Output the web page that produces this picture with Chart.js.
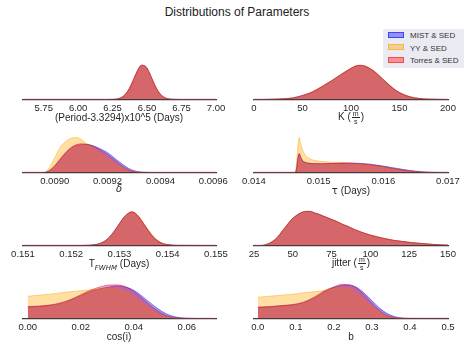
<!DOCTYPE html>
<html>
<head>
<meta charset="utf-8">
<script src="https://cdn.jsdelivr.net/npm/chart.js@4/dist/chart.umd.min.js"></script>
<style>
  html, body { margin:0; padding:0; background:#fff; }
  body { width:474px; height:355px; position:relative; overflow:hidden; font-family:'Liberation Sans', Arial, sans-serif; color:#262626; }
  canvas { position:absolute; }
  #title { position:absolute; left:0; width:474px; top:5px; text-align:center; font-size:12px; line-height:14px; color:#222; }
  .xl { position:absolute; width:220px; text-align:center; font-size:10px; line-height:12px; white-space:nowrap; }
  .frac { display:inline-block; vertical-align:middle; font-size:7px; line-height:7px; text-align:center; margin:0 1px; }
  .frac span { display:block; }
  .frac .num { border-bottom:0.8px solid #262626; padding:0 1px; }
  .math { font-family:'DejaVu Sans', sans-serif; font-style:italic; }
  #legend { position:absolute; left:383px; top:29px; width:81px; height:39px; background:#eaeaf2; border-radius:2px; font-size:8px; font-weight:normal; color:#333; }
  #legend .it { position:absolute; left:5px; height:10px; line-height:10px; white-space:nowrap; }
  #legend .sw { display:inline-block; width:16px; height:6px; vertical-align:middle; margin-right:6px; box-sizing:border-box; border:1px solid; position:relative; top:-1px; }
</style>
</head>
<body>
<div id="title">Distributions of Parameters</div>

<canvas id="c1" width="237" height="60" style="left:0px;top:60px"></canvas>
<canvas id="c2" width="237" height="60" style="left:237px;top:60px"></canvas>
<canvas id="c3" width="237" height="60" style="left:0px;top:133px"></canvas>
<canvas id="c4" width="237" height="60" style="left:237px;top:133px"></canvas>
<canvas id="c5" width="237" height="60" style="left:0px;top:206px"></canvas>
<canvas id="c6" width="237" height="60" style="left:237px;top:206px"></canvas>
<canvas id="c7" width="237" height="60" style="left:0px;top:279px"></canvas>
<canvas id="c8" width="237" height="60" style="left:237px;top:279px"></canvas>

<div class="xl" style="left:9px;top:112px">(Period-3.3294)x10^5 (Days)</div>
<div class="xl" style="left:241px;top:110px">K (<span class="frac"><span class="num">m</span><span>s</span></span>)</div>
<div class="xl" style="left:9px;top:183px"><span class="math">δ</span></div>
<div class="xl" style="left:241px;top:185px"><span style="font-family:'DejaVu Sans',sans-serif">τ</span> (Days)</div>
<div class="xl" style="left:9px;top:258px">T<sub class="math" style="font-size:7px">FWHM</sub> (Days)</div>
<div class="xl" style="left:241px;top:256px">jitter (<span class="frac"><span class="num">m</span><span>s</span></span>)</div>
<div class="xl" style="left:9px;top:331px">cos(i)</div>
<div class="xl" style="left:241px;top:331px">b</div>

<div id="legend">
  <div class="it" style="top:2px"><span class="sw" style="background:rgba(0,0,255,0.38);border-color:rgba(0,0,255,0.55)"></span>MIST &amp; SED</div>
  <div class="it" style="top:14.5px"><span class="sw" style="background:rgba(255,165,0,0.4);border-color:rgba(255,165,0,0.55)"></span>YY &amp; SED</div>
  <div class="it" style="top:27px"><span class="sw" style="background:rgba(255,0,0,0.38);border-color:rgba(255,0,0,0.5)"></span>Torres &amp; SED</div>
</div>

<script>
// ---------------- DATA (heights are relative bin counts) ----------------
const seriesNames = ['MIST & SED', 'YY & SED', 'Torres & SED'];

// Panel 1: (Period-3.3294)x10^5 (Days)
const periodX      = [5.60, 6.10, 6.20, 6.25, 6.28, 6.31, 6.34, 6.37, 6.40, 6.43, 6.46, 6.49, 6.52, 6.55, 6.58, 6.61, 6.64, 6.67, 6.70, 6.75, 7.00];
const periodMist   = [0, 0, 0, 1, 4, 16, 46, 106, 195, 289, 347, 335, 261, 163, 83, 34, 11, 3, 1, 0, 0];
const periodYY     = [0, 0, 0, 1, 5, 18, 48, 109, 198, 291, 344, 333, 259, 165, 85, 35, 12, 3, 1, 0, 0];
const periodTorres = [0, 0, 0, 1, 5, 17, 47, 107, 196, 290, 346, 334, 260, 164, 84, 34, 11, 3, 1, 0, 0];
const periodTicks  = [5.75, 6.00, 6.25, 6.50, 6.75, 7.00];
const periodLabels = ['5.75', '6.00', '6.25', '6.50', '6.75', '7.00'];

// Panel 2: K (m/s)
const kX      = [0, 10, 20, 30, 40, 50, 60, 70, 80, 90, 100, 105, 110, 115, 120, 125, 130, 135, 140, 145, 150, 160, 170, 180, 190, 200];
const kMist   = [0, 0, 2, 6, 15, 39, 74, 129, 189, 254, 314, 339, 346, 336, 311, 276, 231, 186, 141, 101, 69, 29, 10, 3, 1, 0];
const kYY     = [0, 0, 2, 6, 16, 41, 76, 131, 191, 256, 316, 341, 347, 338, 314, 280, 236, 190, 145, 104, 71, 30, 11, 3, 1, 0];
const kTorres = [0, 0, 2, 6, 15, 40, 75, 130, 190, 255, 315, 340, 345, 335, 310, 275, 230, 185, 140, 100, 68, 28, 10, 3, 1, 0];
const kTicks  = [0, 50, 100, 150, 200];
const kLabels = ['0', '50', '100', '150', '200'];

// Panel 3: delta
const deltaX      = [0.00888, 0.00896, 0.00898, 0.00900, 0.00902, 0.00904, 0.00906, 0.00908, 0.00910, 0.00912, 0.00914, 0.00916, 0.00918, 0.00920, 0.00922, 0.00924, 0.00926, 0.00928, 0.00930, 0.00932, 0.00934, 0.00936, 0.00961];
const deltaMist   = [0, 0, 15, 60, 125, 190, 240, 270, 280, 285, 275, 255, 230, 200, 160, 115, 75, 40, 18, 6, 2, 0, 0];
const deltaYY     = [0, 0, 50, 150, 250, 310, 345, 355, 335, 295, 260, 220, 180, 140, 100, 65, 38, 18, 6, 1, 0, 0, 0];
const deltaTorres = [0, 0, 20, 70, 135, 200, 250, 280, 290, 285, 270, 245, 215, 180, 140, 95, 55, 25, 8, 2, 0, 0, 0];
const deltaTicks  = [0.0090, 0.0092, 0.0094, 0.0096];
const deltaLabels = ['0.0090', '0.0092', '0.0094', '0.0096'];

// Panel 4: tau (Days)
const tauX      = [0.01400, 0.01464, 0.01466, 0.01468, 0.01470, 0.01472, 0.01475, 0.01480, 0.01485, 0.01490, 0.01500, 0.01510, 0.01520, 0.01530, 0.01540, 0.01550, 0.01560, 0.01570, 0.01580, 0.01590, 0.01600, 0.01610, 0.01620, 0.01630, 0.01640, 0.01650, 0.01660, 0.01670, 0.01680, 0.01700];
const tauMist   = [0, 0, 50, 145, 190, 160, 120, 100, 93, 90, 88, 89, 91, 93, 95, 95, 93, 89, 83, 74, 64, 53, 42, 31, 21, 13, 7, 3, 1, 0];
const tauYY     = [0, 0, 120, 280, 355, 300, 230, 170, 145, 128, 115, 108, 104, 102, 100, 93, 88, 82, 74, 64, 54, 43, 32, 22, 14, 8, 4, 1, 0, 0];
const tauTorres = [0, 0, 50, 150, 190, 160, 120, 100, 93, 90, 88, 88, 90, 92, 93, 93, 90, 85, 78, 68, 58, 46, 34, 24, 15, 9, 4, 1, 0, 0];
const tauTicks  = [0.014, 0.015, 0.016, 0.017];
const tauLabels = ['0.014', '0.015', '0.016', '0.017'];

// Panel 5: T_FWHM (Days)
const fwhmX      = [0.1510, 0.1522, 0.1524, 0.1525, 0.1526, 0.1527, 0.1528, 0.1529, 0.1530, 0.1531, 0.1532, 0.15325, 0.1533, 0.1534, 0.1535, 0.1536, 0.1537, 0.1538, 0.1539, 0.1540, 0.1541, 0.1542, 0.1550];
const fwhmMist   = [0, 0, 3, 9, 21, 46, 89, 151, 223, 291, 331, 339, 333, 289, 219, 147, 85, 43, 18, 7, 2, 1, 0];
const fwhmYY     = [0, 0, 2, 7, 18, 42, 84, 145, 217, 286, 331, 341, 337, 297, 228, 156, 92, 48, 21, 9, 3, 1, 0];
const fwhmTorres = [0, 0, 3, 8, 20, 45, 88, 150, 222, 290, 332, 340, 334, 290, 220, 148, 86, 44, 19, 8, 3, 1, 0];
const fwhmTicks  = [0.151, 0.152, 0.153, 0.154, 0.155];
const fwhmLabels = ['0.151', '0.152', '0.153', '0.154', '0.155'];

// Panel 6: jitter (m/s)
const jitX      = [25, 30, 33, 36, 40, 43, 46, 49, 52, 55, 58, 61, 64, 67, 70, 74, 78, 82, 86, 90, 95, 100, 105, 110, 115, 120, 125, 130, 135, 140, 145, 150];
const jitMist   = [0, 0, 10, 31, 81, 141, 199, 259, 299, 329, 344, 346, 331, 316, 296, 271, 244, 214, 189, 159, 129, 104, 84, 66, 51, 41, 31, 23, 16, 10, 6, 3];
const jitYY     = [0, 0, 9, 29, 79, 139, 201, 262, 302, 331, 346, 344, 329, 314, 294, 270, 246, 216, 190, 161, 131, 106, 85, 67, 52, 41, 31, 24, 17, 11, 6, 3];
const jitTorres = [0, 0, 10, 30, 80, 140, 200, 260, 300, 330, 345, 345, 330, 315, 295, 270, 245, 215, 190, 160, 130, 105, 85, 67, 52, 42, 32, 24, 17, 11, 6, 3];
const jitTicks  = [25, 50, 75, 100, 125, 150];
const jitLabels = ['25', '50', '75', '100', '125', '150'];

// Panel 7: cos(i)
const cosX      = [0.000, 0.004, 0.008, 0.012, 0.016, 0.020, 0.024, 0.028, 0.031, 0.034, 0.037, 0.040, 0.043, 0.046, 0.049, 0.052, 0.055, 0.058, 0.061, 0.064, 0.070];
const cosMist   = [115, 120, 130, 150, 185, 230, 275, 305, 320, 330, 318, 285, 228, 162, 100, 50, 20, 6, 2, 0, 0];
const cosYY     = [225, 235, 245, 258, 270, 280, 290, 300, 305, 297, 268, 218, 158, 97, 46, 16, 4, 1, 0, 0, 0];
const cosTorres = [120, 125, 135, 155, 190, 240, 290, 325, 340, 340, 320, 272, 206, 136, 75, 30, 10, 2, 0, 0, 0];
const cosTicks  = [0.00, 0.02, 0.04, 0.06];
const cosLabels = ['0.00', '0.02', '0.04', '0.06'];

// Panel 8: b
const bX      = [0.00, 0.03, 0.06, 0.09, 0.12, 0.15, 0.18, 0.20, 0.22, 0.24, 0.26, 0.28, 0.30, 0.32, 0.34, 0.36, 0.38, 0.40, 0.50];
const bMist   = [110, 115, 125, 135, 160, 210, 280, 315, 335, 340, 315, 255, 180, 105, 50, 18, 5, 1, 0];
const bYY     = [215, 225, 235, 245, 260, 272, 285, 305, 310, 298, 255, 190, 120, 60, 20, 5, 0, 0, 0];
const bTorres = [115, 120, 130, 140, 165, 220, 290, 320, 345, 340, 305, 235, 155, 80, 30, 8, 1, 0, 0];
const bTicks  = [0.0, 0.1, 0.2, 0.3, 0.4, 0.5];
const bLabels = ['0.0', '0.1', '0.2', '0.3', '0.4', '0.5'];

// ---------------- STYLE ----------------
const fillColors   = ['rgba(0,0,255,0.4)', 'rgba(255,165,0,0.36)', 'rgba(255,0,0,0.35)'];
const borderColors = ['rgba(0,0,255,0.45)', 'rgba(255,165,0,0.45)', 'rgba(200,0,20,0.45)'];
const drawOrder    = [2, 1, 0]; // Torres drawn on top
const FONT = "'Liberation Sans', Arial, sans-serif";

function makeChart(id, xs, ys, xmin, xmax, ticks, labels, padL, padR) {
  const datasets = ys.map((arr, k) => ({
    label: seriesNames[k],
    data: xs.map((x, i) => ({ x: x, y: arr[i] })),
    backgroundColor: fillColors[k],
    borderColor: borderColors[k],
    borderWidth: 1,
    fill: 'origin',
    pointRadius: 0,
    cubicInterpolationMode: 'monotone',
    order: drawOrder[k]
  }));
  return new Chart(document.getElementById(id), {
    type: 'line',
    data: { datasets },
    options: {
      responsive: false,
      animation: false,
      events: [],
      layout: { padding: { left: padL, right: padR, top: 0, bottom: 3.2 } },
      plugins: { legend: { display: false }, tooltip: { enabled: false }, title: { display: false } },
      scales: {
        x: {
          type: 'linear', min: xmin, max: xmax,
          grid: { display: false, drawTicks: false },
          border: { display: true, color: '#3c3c3c', width: 1.2 },
          afterBuildTicks: (axis) => { axis.ticks = ticks.map(v => ({ value: v })); },
          ticks: {
            autoSkip: false, maxRotation: 0, minRotation: 0, padding: 3,
            color: '#262626', font: { family: FONT, size: 9.5, lineHeight: 1.2 },
            callback: (v, i) => labels[i]
          }
        },
        y: { display: false, min: 0, max: 400 }
      }
    }
  });
}

makeChart('c1', periodX, [periodMist, periodYY, periodTorres], 5.6, 7.0, periodTicks, periodLabels, 23, 21);
makeChart('c2', kX, [kMist, kYY, kTorres], 0, 200, kTicks, kLabels, 17, 26);
makeChart('c3', deltaX, [deltaMist, deltaYY, deltaTorres], 0.00888, 0.00961, deltaTicks, deltaLabels, 23, 21);
makeChart('c4', tauX, [tauMist, tauYY, tauTorres], 0.014, 0.017, tauTicks, tauLabels, 17, 26);
makeChart('c5', fwhmX, [fwhmMist, fwhmYY, fwhmTorres], 0.151, 0.155, fwhmTicks, fwhmLabels, 23, 21);
makeChart('c6', jitX, [jitMist, jitYY, jitTorres], 25, 150, jitTicks, jitLabels, 17, 26);
makeChart('c7', cosX, [cosMist, cosYY, cosTorres], -0.0018, 0.071, cosTicks, cosLabels, 23, 21);
makeChart('c8', bX, [bMist, bYY, bTorres], -0.01, 0.5, bTicks, bLabels, 17, 26);
</script>
</body>
</html>
